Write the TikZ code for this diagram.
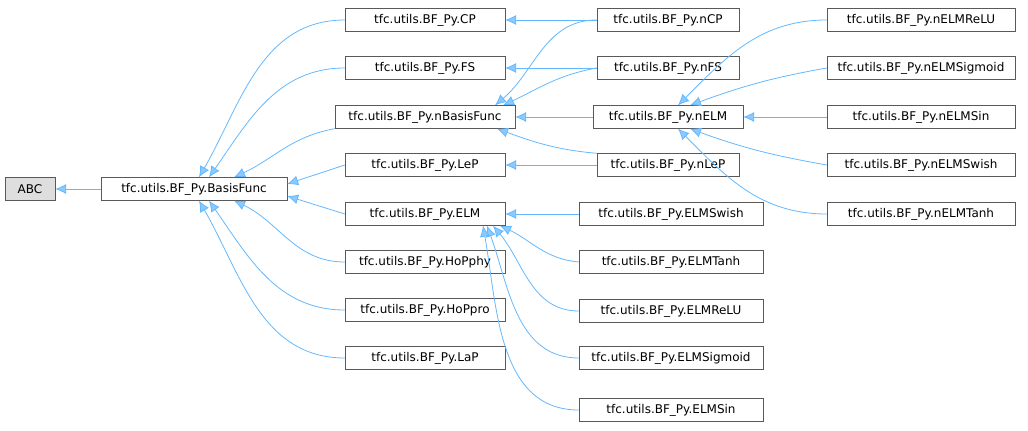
\documentclass[tikz,border=0pt]{standalone}
\usepackage{fontspec}
\setmainfont{DejaVu Sans}
\usetikzlibrary{arrows.meta}
\definecolor{edgeblue}{HTML}{63B8FF}
\tikzset{
    cls/.style = {draw=black!65, fill=white, minimum height=23pt, inner xsep=2pt, font=\fontsize{12}{14}\selectfont},
    ext/.style = {cls, fill=black!13},
    inh/.style = {draw=edgeblue, line width=0.8pt, -{Latex[length=11pt,width=10pt,fill=edgeblue!75]}}
}
\begin{document}
\begin{tikzpicture}[x=1pt, y=-1pt]
    \useasboundingbox (0,0) rectangle (1028,431);
    \node [ext, minimum width=50pt] (abc) at (30,189) {ABC};
    \node [cls, minimum width=186pt] (bf) at (194,189) {tfc.utils.BF\_Py.BasisFunc};
    % second column
    \node [cls, minimum width=160pt] (cp) at (425,20) {tfc.utils.BF\_Py.CP};
    \node [cls, minimum width=160pt] (fs) at (425,68) {tfc.utils.BF\_Py.FS};
    \node [cls, minimum width=180pt] (nbf) at (425,117) {tfc.utils.BF\_Py.nBasisFunc};
    \node [cls, minimum width=160pt] (lep) at (425,165) {tfc.utils.BF\_Py.LeP};
    \node [cls, minimum width=160pt] (elm) at (425,214) {tfc.utils.BF\_Py.ELM};
    \node [cls, minimum width=160pt] (hphy) at (425,262) {tfc.utils.BF\_Py.HoPphy};
    \node [cls, minimum width=160pt] (hpro) at (425,310) {tfc.utils.BF\_Py.HoPpro};
    \node [cls, minimum width=160pt] (lap) at (425,358) {tfc.utils.BF\_Py.LaP};
    % third column
    \node [cls, minimum width=142pt] (ncp) at (668,20) {tfc.utils.BF\_Py.nCP};
    \node [cls, minimum width=142pt] (nfs) at (668,68) {tfc.utils.BF\_Py.nFS};
    \node [cls, minimum width=150pt] (nelm) at (668,117) {tfc.utils.BF\_Py.nELM};
    \node [cls, minimum width=142pt] (nlep) at (668,165) {tfc.utils.BF\_Py.nLeP};
    \node [cls, minimum width=184pt] (eswish) at (671,214) {tfc.utils.BF\_Py.ELMSwish};
    \node [cls, minimum width=184pt] (etanh) at (671,262) {tfc.utils.BF\_Py.ELMTanh};
    \node [cls, minimum width=184pt] (erelu) at (671,311) {tfc.utils.BF\_Py.ELMReLU};
    \node [cls, minimum width=184pt] (esig) at (671,358) {tfc.utils.BF\_Py.ELMSigmoid};
    \node [cls, minimum width=184pt] (esin) at (671,410) {tfc.utils.BF\_Py.ELMSin};
    % fourth column
    \node [cls, minimum width=188pt] (nrelu) at (921,20) {tfc.utils.BF\_Py.nELMReLU};
    \node [cls, minimum width=188pt] (nsig) at (921,68) {tfc.utils.BF\_Py.nELMSigmoid};
    \node [cls, minimum width=188pt] (nsin) at (921,117) {tfc.utils.BF\_Py.nELMSin};
    \node [cls, minimum width=188pt] (nswish) at (921,165) {tfc.utils.BF\_Py.nELMSwish};
    \node [cls, minimum width=188pt] (ntanh) at (921,214) {tfc.utils.BF\_Py.nELMTanh};
    % edges
    \draw [inh] (bf) -- (abc);
    \draw [inh] (cp.west) to[out=180, in=60] ([xshift=5pt]bf.north);
    \draw [inh] (fs.west) to[out=180, in=55] ([xshift=15pt]bf.north);
    \draw [inh] (nbf.south west) to[out=190, in=25] ([xshift=40pt]bf.north);
    \draw [inh] (lep.west) -- (bf.east |- 0,184);
    \draw [inh] (elm.west) -- (bf.east |- 0,196);
    \draw [inh] (hphy.west) to[out=180, in=-25] ([xshift=40pt]bf.south);
    \draw [inh] (hpro.west) to[out=180, in=-55] ([xshift=15pt]bf.south);
    \draw [inh] (lap.west) to[out=180, in=-60] ([xshift=5pt]bf.south);
    \draw [inh] (ncp.west) -- (cp.east);
    \draw [inh] (nfs.west) -- (fs.east);
    \draw [inh] (nlep.west) -- (lep.east);
    \draw [inh] (ncp.west) to[out=180, in=40] ([xshift=70pt]nbf.north);
    \draw [inh] (nfs.west) to[out=190, in=25] ([xshift=78pt]nbf.north);
    \draw [inh] (nelm.west) -- (nbf.east);
    \draw [inh] (nlep.north west) to[out=175, in=-20] ([xshift=72pt]nbf.south);
    \draw [inh] (nrelu.west) to[out=180, in=45] ([xshift=10pt]nelm.north);
    \draw [inh] (nsig.west) to[out=190, in=20] ([xshift=22pt]nelm.north);
    \draw [inh] (nsin.west) -- (nelm.east);
    \draw [inh] (nswish.west) to[out=170, in=-20] ([xshift=22pt]nelm.south);
    \draw [inh] (ntanh.west) to[out=180, in=-45] ([xshift=10pt]nelm.south);
    \draw [inh] (eswish.west) -- (elm.east);
    \draw [inh] (etanh.west) to[out=175, in=-25] ([xshift=75pt]elm.south);
    \draw [inh] (erelu.west) to[out=180, in=-50] ([xshift=68pt]elm.south);
    \draw [inh] (esig.west) to[out=180, in=-70] ([xshift=62pt]elm.south);
    \draw [inh] (esin.west) to[out=180, in=-80] ([xshift=58pt]elm.south);
\end{tikzpicture}
\end{document}
